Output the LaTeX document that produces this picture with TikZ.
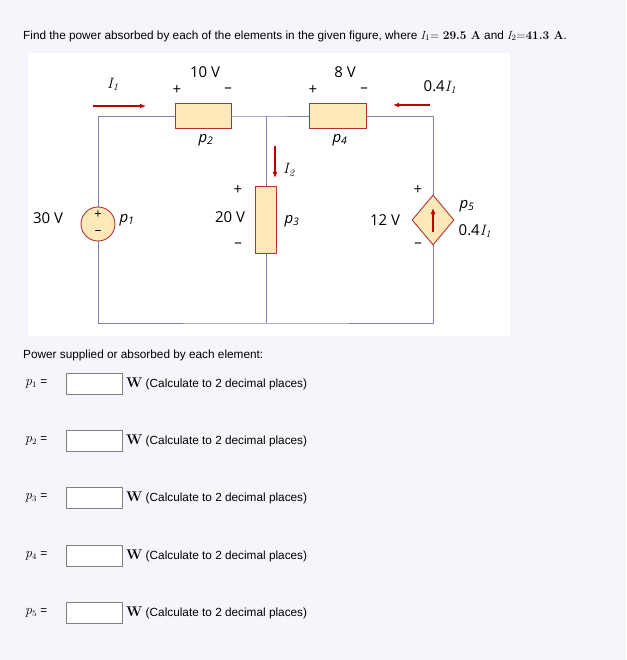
\documentclass[tikz,border=0pt]{standalone}
\usepackage{fontspec}
\setmainfont{Liberation Sans}
\newfontfamily\serf{Latin Modern Roman}
\newfontfamily\circf{Open Sans}
\usetikzlibrary{arrows.meta,shapes.geometric}
\begin{document}
\begin{tikzpicture}[x=1pt,y=-1pt,
  wire/.style={draw=blue!25!gray!80,line width=0.9pt},
  res/.style={draw=red!60!black!80,fill=yellow!35!orange!25,line width=0.9pt},
  cur/.style={draw=red!75!black,line width=1.8pt,-{Latex[length=6pt,width=5pt]}},
  lab/.style={font=\circf\fontsize{15}{15}\selectfont,inner sep=0pt},
  txt/.style={font=\fontsize{11.8}{13}\selectfont,inner sep=0pt,anchor=west},
  ans/.style={draw=gray,fill=white,minimum width=56pt,minimum height=21pt,inner sep=0pt,anchor=west}]
\fill[cyan!5!blue!3] (0,0) rectangle (626,660);
\useasboundingbox (0,0) rectangle (626,660);
\fill[white] (28,53) rectangle (510,336);
\node[txt] (title) at (23,36) {Find the power absorbed by each of the elements in the given figure, where {\serf\itshape I}\textsubscript{\serf 1}{\serf = \bfseries 29.5 A} and {\serf\itshape I}\textsubscript{\serf 2}{\serf =\bfseries 41.3 A}.};
% nodes
\coordinate (tl) at (98,116); \coordinate (tm) at (266,116); \coordinate (tr) at (433,116);
\coordinate (bl) at (98,323); \coordinate (bm) at (266,323); \coordinate (br) at (433,323);
\node[res,minimum width=56pt,minimum height=25pt,inner sep=0pt] (r2) at (203,116) {};
\node[res,minimum width=57pt,minimum height=25pt,inner sep=0pt] (r4) at (338,116) {};
\node[res,minimum width=21pt,minimum height=67pt,inner sep=0pt] (r3) at (266,220) {};
\node[circle,res,minimum size=34pt,inner sep=0pt] (v1) at (98,224) {};
\node[diamond,res,minimum width=42pt,minimum height=50pt,inner sep=0pt] (d5) at (433,220) {};
\draw[wire] (v1.north) -- (tl) -- (r2.west) (r2.east) -- (tm) -- (r4.west) (r4.east) -- (tr) -- (d5.north);
\draw[wire] (tm) -- (r3.north) (r3.south) -- (bm);
\draw[wire] (v1.south) -- (bl) -- (bm) -- (br) -- (d5.south);
\node[lab] (vp) at (98,215) {\fontsize{13}{13}\selectfont +};
\node[lab] (vm) at (98,233) {\fontsize{13}{13}\selectfont –};
\coordinate (d1) at (433,232); \coordinate (d2) at (433,208);
\draw[cur] (d1) -- (d2);
% labels
\coordinate (a1) at (93,106); \coordinate (a2) at (146,106);
\draw[cur] (a1) -- (a2);
\coordinate (b1) at (430,105); \coordinate (b2) at (393,105);
\draw[cur] (b1) -- (b2);
\coordinate (c1) at (275,146); \coordinate (c2) at (275,178);
\draw[cur] (c1) -- (c2);
\node[lab] (li1) at (113,84) {\serf\itshape I\textsubscript{1}};
\node[lab] (l10) at (205,72) {10 V};
\node[lab] (p10) at (177,90) {+}; \node[lab] (m10) at (228,90) {–};
\node[lab] (l8) at (345,72) {8 V};
\node[lab] (p8) at (313,90) {+}; \node[lab] (m8) at (364,90) {–};
\node[lab] (l04a) at (440,87) {0.4{\serf\itshape I\textsubscript{1}}};
\node[lab] (lp2) at (206,140) {\itshape p\textsubscript{2}};
\node[lab] (lp4) at (340,140) {\itshape p\textsubscript{4}};
\node[lab] (li2) at (289,170) {\serf\itshape I\textsubscript{2}};
\node[lab] (p20) at (238,190) {+}; \node[lab] (l20) at (230,217) {20 V}; \node[lab] (m20) at (238,245) {–};
\node[lab] (lp3) at (292,221) {\itshape p\textsubscript{3}};
\node[lab] (l30) at (48,218) {30 V};
\node[lab] (lp1) at (127,220) {\itshape p\textsubscript{1}};
\node[lab] (l12) at (385,220) {12 V};
\node[lab] (p12) at (418,190) {+}; \node[lab] (m12) at (418,245) {–};
\node[lab] (lp5) at (467,206) {\itshape p\textsubscript{5}};
\node[lab] (l04b) at (475,231) {0.4{\serf\itshape I\textsubscript{1}}};
% answers
\node[txt] (ps) at (23,355) {Power supplied or absorbed by each element:};
\foreach \i/\y in {1/384,2/441,3/498,4/556,5/613}{
  \node[txt] (pl\i) at (25,\y) {{\serf\itshape\fontsize{14}{14}\selectfont p}\textsubscript{\serf\i} =};
  \node[ans] (box\i) at (66,\y) {};
  \node[txt] (w\i) at (126,\y) {{\serf\bfseries\fontsize{14}{14}\selectfont W} (Calculate to 2 decimal places)};
}
\end{tikzpicture}
\end{document}
